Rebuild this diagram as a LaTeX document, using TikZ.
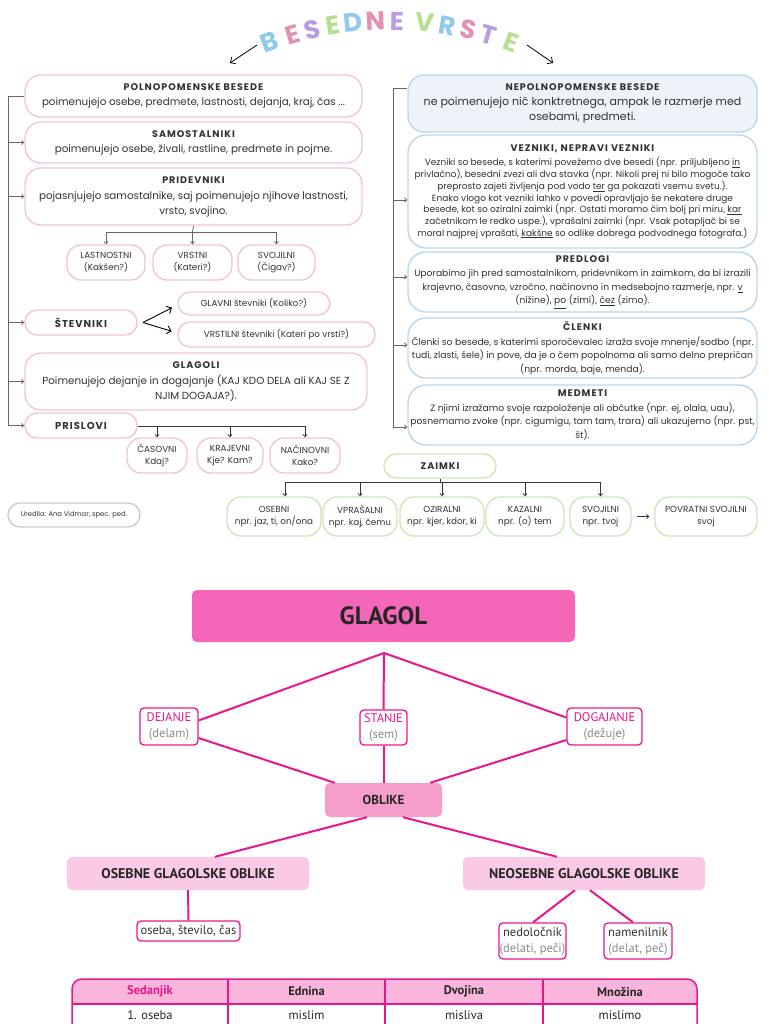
\documentclass[tikz,border=0pt]{standalone}
\usepackage{fontspec}
\setmainfont{Poppins}
\newfontfamily\pop{Poppins}
\newfontfamily\popsp[LetterSpace=10]{Poppins}
\newfontfamily\ptc{PT Sans}
\usetikzlibrary{arrows.meta}
\definecolor{pinkB}{HTML}{F2C4DA}
\definecolor{blueB}{HTML}{BCD6EE}
\definecolor{blueF}{HTML}{EEF3F9}
\definecolor{greenB}{HTML}{CFE7BD}
\definecolor{grayB}{HTML}{CCCCCC}
\definecolor{txt}{HTML}{333333}
\definecolor{lineG}{HTML}{666666}
\definecolor{mag}{HTML}{EA178C}
\definecolor{glagF}{HTML}{F466B8}
\definecolor{oblF}{HTML}{F59DCB}
\definecolor{osF}{HTML}{FAC9E5}
\definecolor{tabF}{HTML}{F9B5DB}
\definecolor{tBlue}{HTML}{8ECAEF}
\definecolor{tPink}{HTML}{E291B3}
\definecolor{tPurp}{HTML}{B99DE3}
\definecolor{tGreen}{HTML}{B7DE93}
\definecolor{grT}{HTML}{8C8C8C}
\newcommand\bxt{\popsp\bfseries\fontsize{9.6}{10}\selectfont}
\begin{document}
\begin{tikzpicture}[x=1pt,y=-1pt,
  box/.style={draw, line width=1.4pt, fill=white, align=center, inner sep=0pt, text=txt},
  pk/.style={box, draw=pinkB},
  bl/.style={box, draw=blueB},
  gr/.style={box, draw=greenB},
  sz/.style n args={2}{minimum width=#1pt, minimum height=#2pt},
  big/.style={font=\pop\fontsize{10.3}{15}\selectfont, rounded corners=16pt},
  small/.style={font=\pop\fontsize{8.8}{12}\selectfont, rounded corners=14pt},
  pill/.style={rounded corners=12pt},
  rtxt/.style={font=\pop\fontsize{9}{11.7}\selectfont, rounded corners=18pt},
  conn/.style={draw=lineG, line width=0.8pt},
  tip/.style={-{Straight Barb[length=2.2pt,width=4pt]}},
  btip/.style={-{Straight Barb[length=4pt,width=8pt]}, line width=0.9pt, draw=black},
  mline/.style={draw=mag, line width=2pt},
  mbox/.style={draw=mag, line width=1.3pt, fill=white, rounded corners=4pt, inner sep=0pt, align=center, font=\ptc\fontsize{12.5}{16}\selectfont},
  fbox/.style={rounded corners=5pt, inner sep=0pt, align=center, text=black!85, font=\ptc\bfseries\fontsize{14}{15}\selectfont},
  cell/.style={font=\ptc\fontsize{12.5}{13}\selectfont, text=black!85, inner sep=0pt}
]
\useasboundingbox (0,0) rectangle (768,1024);
\clip (0,0) rectangle (768,1024);

% ---------- title
\foreach \L/\a/\c [count=\i] in {B/-20.0/tBlue, E/-16.1/tPink, S/-12.8/tPurp, E/-9.3/tGreen, D/-6.0/tBlue, N/-2.4/tPink, E/1.1/tPurp, V/5.7/tGreen, R/9.3/tBlue, S/12.8/tPink, T/16.2/tPurp, E/20.1/tGreen}
  \node[font=\pop\bfseries\fontsize{26}{27}\selectfont, text=\c, rotate=-\a, inner sep=0pt] (t\i) at ({390+352*sin(\a)},{373-352*cos(\a)}) {\L};
\coordinate (ts1) at (257,45);
\coordinate (ta1) at (230,63);
\coordinate (ts2) at (527,45);
\coordinate (ta2) at (553,63);
\draw[btip, line width=0.8pt] (ts1) -- (ta1);
\draw[btip, line width=0.8pt] (ts2) -- (ta2);

% ---------- left column
\node[pk, big, sz={337}{42}] (polno) at (193.5,96) {{\bxt POLNOPOMENSKE BESEDE}\\poimenujejo osebe, predmete, lastnosti, dejanja, kraj, čas ...};
\node[pk, big, sz={337}{41}] (samo) at (193.5,142.5) {{\bxt SAMOSTALNIKI}\\poimenujejo osebe, živali, rastline, predmete in pojme.};
\node[pk, big, sz={337}{57}] (pride) at (193.5,196.5) {{\bxt PRIDEVNIKI}\\[1pt]pojasnjujejo samostalnike, saj poimenujejo njihove lastnosti,\\vrsto, svojino.};
\node[pk, small, sz={78}{35}] (last) at (106,262.5) {LASTNOSTNI\\(Kakšen?)};
\node[pk, small, sz={79}{35}] (vrst) at (192.5,262.5) {VRSTNI\\(Kateri?)};
\node[pk, small, sz={77}{35}] (svoj) at (276.5,262.5) {SVOJILNI\\(Čigav?)};
\node[pk, pill, sz={112}{25}] (stev) at (81,322.5) {{\popsp\bfseries\fontsize{10}{10}\selectfont ŠTEVNIKI}};
\node[pk, small, pill, sz={152}{23}] (glav) at (254,303.5) {GLAVNI števniki (Koliko?)};
\node[pk, small, pill, sz={197}{25}] (vrstil) at (276.5,334.5) {VRSTILNI števniki (Kateri po vrsti?)};
\node[pk, big, sz={342}{57}] (glagoli) at (196,381.5) {{\bxt GLAGOLI}\\[1pt]Poimenujejo dejanje in dogajanje (KAJ KDO DELA ali KAJ SE Z\\NJIM DOGAJA?).};
\node[pk, pill, sz={112}{25}] (prisl) at (81,425.5) {{\popsp\bfseries\fontsize{10}{10}\selectfont PRISLOVI}};
\node[pk, small, sz={60}{35}] (casov) at (157,455.5) {ČASOVNI\\Kdaj?};
\node[pk, small, sz={66}{35}] (krajev) at (230,455.5) {KRAJEVNI\\Kje? Kam?};
\node[pk, small, sz={70}{35}] (nacin) at (305,455.5) {NAČINOVNI\\Kako?};
\node[box, draw=grayB, pill, sz={132}{24}, font=\pop\fontsize{6.8}{8}\selectfont] (sign) at (74,515) {Uredila: Ana Vidmar, spec. ped.};

% left connectors
\coordinate (lx) at (8,96);
\draw[conn, tip] (polno.west) -- (lx) |- (prisl.west);
\draw[conn, tip] (lx |- samo.west) -- (samo.west);
\draw[conn, tip] (lx |- pride.west) -- (pride.west);
\draw[conn, tip] (lx |- stev.west) -- (stev.west);
\draw[conn, tip] (lx |- glagoli.west) -- (glagoli.west);
\coordinate (pj) at (192.5,232);
\draw[conn] (pride.south) -- (pj);
\draw[conn] (last.north |- pj) -- (svoj.north |- pj);
\draw[conn, tip] (last.north |- pj) -- (last.north);
\draw[conn, tip] (vrst.north |- pj) -- (vrst.north);
\draw[conn, tip] (svoj.north |- pj) -- (svoj.north);
\coordinate (sf) at (143,322.5);
\draw[btip, shorten >=6pt] (sf) -- (glav.west |- 0,305);
\draw[btip, shorten >=6pt] (sf) -- (vrstil.west |- 0,333);
\coordinate (pr) at (305,426);
\draw[conn, draw=txt, line width=1pt] (prisl.east |- pr) -- (pr);
\draw[conn, draw=txt, tip] (casov.north |- pr) -- (casov.north);
\draw[conn, draw=txt, tip] (krajev.north |- pr) -- (krajev.north);
\draw[conn, draw=txt, tip] (nacin.north |- pr) -- (nacin.north);

% ---------- right column
\node[bl, big, fill=blueF, sz={349}{57}, font=\pop\fontsize{11}{15}\selectfont] (nepol) at (582.5,103.5) {{\bxt NEPOLNOPOMENSKE BESEDE}\\ne poimenujejo nič konktretnega, ampak le razmerje med\\osebami, predmeti.};
\node[bl, rtxt, sz={349}{113}] (vezn) at (582.5,191.5) {{\bxt VEZNIKI, NEPRAVI VEZNIKI}\\[3pt]
Vezniki so besede, s katerimi povežemo dve besedi (npr. priljubljeno \underline{in}\\
privlačno), besedni zvezi ali dva stavka (npr. Nikoli prej ni bilo mogoče tako\\
preprosto zajeti življenja pod vodo \underline{ter} ga pokazati vsemu svetu.).\\
Enako vlogo kot vezniki lahko v povedi opravljajo še nekatere druge\\
besede, kot so oziralni zaimki (npr. Ostati moramo čim bolj pri miru, \underline{kar}\\
začetnikom le redko uspe.), vprašalni zaimki (npr. Vsak potapljač bi se\\
moral najprej vprašati, \underline{kakšne} so odlike dobrega podvodnega fotografa.)};
\node[bl, rtxt, sz={349}{60}, font=\pop\fontsize{9.2}{13.5}\selectfont] (predl) at (582.5,282) {{\bxt PREDLOGI}\\[1pt]Uporabimo jih pred samostalnikom, pridevnikom in zaimkom, da bi izrazili\\krajevno, časovno, vzročno, načinovno in medsebojno razmerje, npr. \underline{v}\\(nižine), \underline{po} (zimi), \underline{čez} (zimo).};
\node[bl, rtxt, sz={349}{60}, font=\pop\fontsize{9.2}{13.5}\selectfont] (clenk) at (582.5,348) {{\bxt ČLENKI}\\[1pt]Členki so besede, s katerimi sporočevalec izraža svoje mnenje/sodbo (npr.\\tudi, zlasti, šele) in pove, da je o čem popolnoma ali samo delno prepričan\\(npr. morda, baje, menda).};
\node[bl, rtxt, sz={349}{60}, font=\pop\fontsize{9.2}{13.5}\selectfont] (medm) at (582.5,415) {{\bxt MEDMETI}\\[1pt]Z njimi izražamo svoje razpoloženje ali občutke (npr. ej, olala, uau),\\posnemamo zvoke (npr. cigumigu, tam tam, trara) ali ukazujemo (npr. pst,\\št).};
\coordinate (rx) at (393,88);
\draw[conn] (nepol.west |- rx) -- (rx) -- (rx |- 0,427);
\draw[conn, tip] (rx |- 0,200) -- (vezn.west |- 0,200);
\draw[conn, tip] (rx |- 0,277) -- (predl.west |- 0,277);
\draw[conn, tip] (rx |- 0,345) -- (clenk.west |- 0,345);
\draw[conn, tip] (rx |- 0,427) -- (medm.west |- 0,427);

% ---------- zaimki
\node[gr, pill, sz={112}{24}] (zaim) at (440,466) {{\popsp\bfseries\fontsize{9.6}{10}\selectfont ZAIMKI}};
\node[gr, small, sz={94}{39}] (oseb) at (274,516.5) {OSEBNI\\npr. jaz, ti, on/ona};
\node[gr, small, sz={74}{39}] (vpra) at (360,516.5) {VPRAŠALNI\\npr. kaj, čemu};
\node[gr, small, sz={84}{39}] (ozir) at (442,516.5) {OZIRALNI\\npr. kjer, kdor, ki};
\node[gr, small, sz={78}{39}] (kaza) at (525,516.5) {KAZALNI\\npr. (o) tem};
\node[gr, small, sz={61}{39}] (svz) at (600.5,516.5) {SVOJILNI\\npr. tvoj};
\node[gr, small, sz={102}{39}] (povr) at (706,516.5) {POVRATNI SVOJILNI\\svoj};
\coordinate (zj) at (440,482);
\draw[conn, draw=txt] (zaim.south) -- (zj);
\draw[conn, draw=txt] ([xshift=11pt]oseb.north |- zj) -- (svz.north |- zj);
\draw[conn, draw=txt, tip] ([xshift=11pt]oseb.north |- zj) -- ([xshift=11pt]oseb.north);
\draw[conn, draw=txt, tip] (vpra.north |- zj) -- (vpra.north);
\draw[conn, draw=txt, tip] (ozir.north |- zj) -- (ozir.north);
\draw[conn, draw=txt, tip] (kaza.north |- zj) -- (kaza.north);
\draw[conn, draw=txt, tip] (svz.north |- zj) -- (svz.north);
\draw[conn, draw=txt, tip, shorten <=5pt, shorten >=5pt] (svz.east) -- (povr.west);

% ---------- GLAGOL diagram
\node[fbox, fill=glagF, sz={383}{52}, font=\ptc\bfseries\fontsize{25}{26}\selectfont, text=black!85] (glag) at (383.5,616) {GLAGOL};
\coordinate (apex) at (384,653);
\node[mbox, sz={58}{37}] (dej) at (169,726.5) {\textcolor{mag}{DEJANJE}\\\textcolor{grT}{(delam)}};
\node[mbox, sz={47}{35}] (stan) at (383.5,727.5) {\textcolor{mag}{STANJE}\\\textcolor{grT}{(sem)}};
\node[mbox, sz={75}{37}] (dog) at (604.5,726.5) {\textcolor{mag}{DOGAJANJE}\\\textcolor{grT}{(dežuje)}};
\node[fbox, fill=oblF, sz={117}{34}, font=\ptc\bfseries\fontsize{13}{14}\selectfont] (obl) at (383.5,800) {OBLIKE};
\draw[mline] (apex) -- ([yshift=6pt]dej.east);
\draw[mline] (apex) -- (stan.north);
\draw[mline] (apex) -- ([yshift=9pt]dog.west);
\draw[mline] ([yshift=-11.5pt]dej.east) -- ([xshift=10pt]obl.north west);
\draw[mline] (stan.south) -- (obl.north);
\draw[mline] ([yshift=-13.5pt]dog.west) -- ([xshift=-12pt]obl.north east);
\node[fbox, fill=osF, sz={242}{33}] (oseg) at (188,873.5) {OSEBNE GLAGOLSKE OBLIKE};
\node[fbox, fill=osF, sz={242}{33}] (neos) at (584,873.5) {NEOSEBNE GLAGOLSKE OBLIKE};
\draw[mline] ([xshift=-16.5pt]obl.south) -- ([xshift=27pt]oseg.north);
\draw[mline] ([xshift=19.5pt]obl.south) -- ([xshift=-27pt]neos.north);
\node[mbox, sz={103}{20}, text=black!80] (osb) at (188.5,931) {oseba, število, čas};
\draw[mline] (oseg.south) -- (osb.north);
\node[mbox, sz={67}{36}] (nedol) at (532.5,941) {\textcolor{black!80}{nedoločnik}\\\textcolor{grT}{(delati, peči)}};
\node[mbox, sz={68}{36}] (namen) at (638,941) {\textcolor{black!80}{namenilnik}\\\textcolor{grT}{(delat, peč)}};
\draw[mline] ([xshift=-9pt]neos.south) -- ([xshift=0.5pt]nedol.north);
\draw[mline] ([xshift=6pt]neos.south) -- ([xshift=-5pt]namen.north);

% ---------- table
\fill[tabF] (72,1004) [rounded corners=10pt] -- (72,979) -- (697,979) [sharp corners] -- (697,1004) -- cycle;
\draw[mag, line width=1.5pt, rounded corners=10pt] (72,1040) -- (72,979) -- (697,979) -- (697,1040);
\draw[mag, line width=1.5pt] (72,1004) -- (697,1004);
\draw[mag, line width=1.5pt] (228,979) -- (228,1040);
\draw[mag, line width=1.5pt] (385,979) -- (385,1040);
\draw[mag, line width=1.5pt] (543,979) -- (543,1040);
\node[cell, text=mag, font=\ptc\bfseries\fontsize{12.5}{13}\selectfont] (h1) at (150,991.5) {Sedanjik};
\node[cell, font=\ptc\bfseries\fontsize{12.5}{13}\selectfont] (h2) at (306.5,991.5) {Ednina};
\node[cell, font=\ptc\bfseries\fontsize{12.5}{13}\selectfont] (h3) at (464,991.5) {Dvojina};
\node[cell, font=\ptc\bfseries\fontsize{12.5}{13}\selectfont] (h4) at (620,991.5) {Množina};
\node[cell] (r1) at (150,1015) {1. oseba};
\node[cell] (r2) at (306.5,1015) {mislim};
\node[cell] (r3) at (464,1015) {misliva};
\node[cell] (r4) at (620,1015) {mislimo};
\end{tikzpicture}
\end{document}
